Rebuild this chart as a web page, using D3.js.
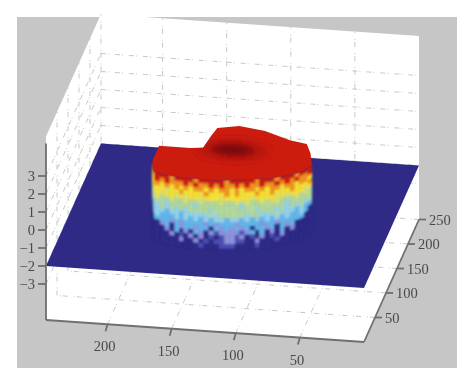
<!DOCTYPE html>
<html>
<head>
<meta charset="utf-8">
<script src="https://cdn.jsdelivr.net/npm/d3@7"></script>
<style>
  html, body { margin: 0; padding: 0; background: #fff; }
  svg { display: block; }
  text { font-family: "Liberation Serif", serif; font-size: 14.5px; fill: #4a4a4a; }
</style>
</head>
<body>
<div id="chart"></div>
<script>
const xTicks = [50, 100, 150, 200];
const yTicks = [50, 100, 150, 200, 250];
const zTicks = [-3, -2, -1, 0, 1, 2, 3];
const xMax = 248;
const yMax = 250;
const zMin = -5;
const zMax = 5.2;
const planeZ = -2;
const rimZ = 1.8;

// Front rim of the raised part, left to right on screen
const rimFrontX = [180, 178, 175, 170, 166, 162, 158, 154, 151, 147, 143, 139, 135, 131, 127, 123, 119, 115, 111, 108, 104, 100, 96, 93, 89, 85, 82, 78, 75, 71, 68, 65, 62, 60, 58];
const rimFrontY = [89, 76, 66, 64, 62, 61, 60, 59, 59, 58.5, 58, 58, 58, 58, 58, 58.5, 59, 60, 61, 62, 63, 64.5, 65.5, 66.5, 68, 69, 71, 74, 76, 79, 82, 85, 90, 95, 101];
// Back rim, continuing right to left
const rimBackX = [63, 69, 83, 105, 126, 142, 144, 146, 156, 180];
const rimBackY = [124, 142, 147, 162, 168, 161, 145, 120, 118, 118];

// Height read down the wall, one string per row, one digit per rim step
const wallLevels = [
  '9899989999899999899999899989998999',
  '8798988898988989889898898898989889',
  '8787878787887878878788787887887887',
  '7877677877778777878777877877787778',
  '7676776767767776777776777767677767',
  '5565565565565556556565565665556565',
  '5555455555455555555455555555455555',
  '5445454545555455555555455545454545',
  '3444344344444545555545544454443433',
  '0343334343434344344343434343433430',
  '0033323233332323332333323323333300',
  '0002303233233032323230332303230000',
  '0000203020320212222123030203020000',
  '0000020102020101221201020102000000',
  '0000000200201011221100200010000000',
  '0000000000010001110000100000000000',
];
const levelZ = [-2, -1.6, -1.2, -0.7, -0.3, 0.2, 0.6, 1, 1.4, 1.8];

// Dark crown on top of the raised part
const crownZ = [2.1, 2.4, 2.7, 3];
const crownRx = [30, 24, 18, 12];
const crownRy = [24, 18, 12, 8];
const crownX = 123;
const crownY = 120;

const colorStops = [-2, -1.6, -1.2, -0.7, -0.3, 0.2, 0.6, 1, 1.4, 1.8, 2.4, 3];
const colorRange = ['#2d2a85', '#4f50b4', '#8f94de', '#63b8ea', '#94d4ea', '#b4da9c', '#dbe26c', '#f7e234', '#f2941e', '#cc1d10', '#b5140c', '#6a0a07'];

const width = 474;
const height = 386;

const color = d3.scaleLinear().domain(colorStops).range(colorRange);

// Oblique view: each data axis has its own scale for screen x and screen y
const xToLeft = d3.scaleLinear().domain([0, xMax]).range([0, -318]);
const xToTop = d3.scaleLinear().domain([0, xMax]).range([0, -22]);
const yToLeft = d3.scaleLinear().domain([0, yMax]).range([0, 55]);
const yToTop = d3.scaleLinear().domain([0, yMax]).range([0, -122.5]);
const zToTop = d3.scaleLinear().domain([zMin, 0]).range([0, -90]);
const originLeft = 364;
const originTop = 342;

const project = (x, y, z) => [
  originLeft + xToLeft(x) + yToLeft(y),
  originTop + xToTop(x) + yToTop(y) + zToTop(z),
];
const line = d3.line();

const svg = d3.select('#chart').append('svg')
  .attr('width', width)
  .attr('height', height);

const defs = svg.append('defs');
defs.append('filter').attr('id', 'soft')
  .append('feGaussianBlur').attr('stdDeviation', 0.6);
defs.append('filter').attr('id', 'wall')
  .append('feGaussianBlur').attr('stdDeviation', 0.9);
defs.append('filter').attr('id', 'softer')
  .attr('x', '-30%').attr('y', '-30%').attr('width', '160%').attr('height', '160%')
  .append('feGaussianBlur').attr('stdDeviation', 3);

const rim = [
  ...rimFrontX.map((x, i) => project(x, rimFrontY[i], rimZ)),
  ...rimBackX.map((x, i) => project(x, rimBackY[i], rimZ)),
];
defs.append('clipPath').attr('id', 'top-clip')
  .append('path').attr('d', `${line(rim)}Z`);

const root = svg.append('g').attr('filter', 'url(#soft)');

root.append('rect')
  .attr('x', 17).attr('y', 17)
  .attr('width', 440).attr('height', 351)
  .attr('fill', '#c6c6c6');

// White walls and floor of the box
root.append('path')
  .attr('d', `${line([
    project(xMax, yMax, zMax),
    project(0, yMax, zMax),
    project(0, yMax, zMin),
    project(0, 0, zMin),
    project(xMax, 0, zMin),
    project(xMax, 0, zMax),
  ])}Z`)
  .attr('fill', '#fff');

const grid = root.append('g')
  .attr('fill', 'none')
  .attr('stroke', '#c2c2c2')
  .attr('stroke-width', 0.9)
  .attr('stroke-dasharray', '5 2 1 6');
const gridLine = (a, b) => grid.append('path').attr('d', line([a, b]));

xTicks.forEach((x) => {
  gridLine(project(x, yMax, zMin), project(x, yMax, zMax));
  gridLine(project(x, 0, zMin), project(x, yMax, zMin));
});
yTicks.forEach((y) => {
  gridLine(project(xMax, y, zMin), project(xMax, y, zMax));
  gridLine(project(0, y, zMin), project(xMax, y, zMin));
});
zTicks.forEach((z) => {
  gridLine(project(xMax, 0, z), project(xMax, yMax, z));
  gridLine(project(xMax, yMax, z), project(0, yMax, z));
});

// Flat part of the surface
root.append('path')
  .attr('d', `${line([
    project(xMax, 0, planeZ),
    project(xMax, yMax, planeZ),
    project(0, yMax, planeZ),
    project(0, 0, planeZ),
  ])}Z`)
  .attr('fill', color(planeZ));

// Wall of the raised part
const rowZ = d3.scaleLinear().domain([0, wallLevels.length]).range([rimZ, planeZ]);
const cells = wallLevels.flatMap((row, r) => row.split('').map((digit, c) => ({
  r, c, z: levelZ[+digit],
})));
root.append('g').attr('filter', 'url(#wall)').selectAll('path')
  .data(cells)
  .join('path')
  .attr('d', (d) => `${line([
    project(rimFrontX[d.c], rimFrontY[d.c], rowZ(d.r)),
    project(rimFrontX[d.c + 1], rimFrontY[d.c + 1], rowZ(d.r)),
    project(rimFrontX[d.c + 1], rimFrontY[d.c + 1], rowZ(d.r + 1)),
    project(rimFrontX[d.c], rimFrontY[d.c], rowZ(d.r + 1)),
  ])}Z`)
  .attr('fill', (d) => color(d.z))
  .attr('stroke', (d) => color(d.z))
  .attr('stroke-width', 0.4);

// Top of the raised part
root.append('path')
  .attr('d', `${line(rim)}Z`)
  .attr('fill', color(rimZ));

const ellipse = (rx, ry) => d3.range(0, Math.PI * 2, 0.2).map((t) => project(
  crownX + rx * Math.cos(t),
  crownY + ry * Math.sin(t),
  rimZ,
));
root.append('g').attr('clip-path', 'url(#top-clip)')
  .append('g').attr('filter', 'url(#softer)')
  .selectAll('path')
  .data(crownZ)
  .join('path')
  .attr('d', (z, i) => `${line(ellipse(crownRx[i], crownRy[i]))}Z`)
  .attr('fill', (z) => color(z));

// Axes
const axes = root.append('g')
  .attr('fill', 'none')
  .attr('stroke', '#6f6f6f')
  .attr('stroke-width', 1.8);
axes.append('path').attr('d', line([project(xMax, 0, zMax - 0.4), project(xMax, 0, zMin)]));
axes.append('path').attr('d', line([project(xMax, 0, zMin), project(0, 0, zMin)]));
axes.append('path').attr('d', line([project(0, 0, zMin), project(0, yMax, zMin)]));

const shift = ([a, b], dx, dy) => [a + dx, b + dy];

zTicks.forEach((z) => {
  const p = project(xMax, 0, z);
  axes.append('path').attr('d', line([shift(p, -8, 0), p]));
  root.append('text')
    .attr('x', p[0] - 11)
    .attr('y', p[1] + 5)
    .attr('text-anchor', 'end')
    .text(d3.format('d')(z));
});
xTicks.forEach((x) => {
  const p = project(x, 0, zMin);
  axes.append('path').attr('d', line([p, shift(p, -2, 7)]));
  root.append('text')
    .attr('x', p[0] - 3)
    .attr('y', p[1] + 27)
    .attr('text-anchor', 'middle')
    .text(x);
});
yTicks.forEach((y) => {
  const p = project(0, y, zMin);
  axes.append('path').attr('d', line([p, shift(p, 7, 0)]));
  root.append('text')
    .attr('x', p[0] + 10)
    .attr('y', p[1] + 5)
    .text(y);
});
</script>
</body>
</html>
